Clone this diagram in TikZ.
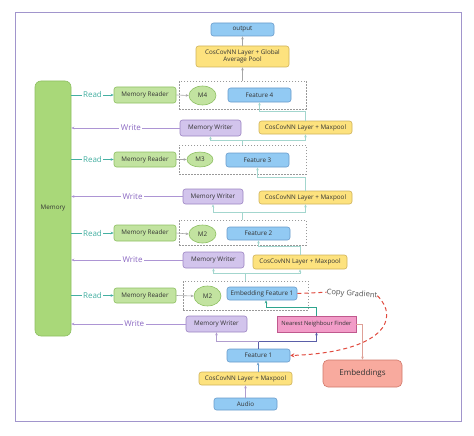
\documentclass[tikz,border=0pt]{standalone}
\usepackage{fontspec}
\setmainfont{Open Sans}
\usetikzlibrary{arrows.meta,shapes.geometric}
\definecolor{framec}{HTML}{A195CC}
\definecolor{gfill}{HTML}{C2E3A0}
\definecolor{gdraw}{HTML}{8DBF62}
\definecolor{memfill}{HTML}{A9D879}
\definecolor{bfill}{HTML}{92CAF3}
\definecolor{bdraw}{HTML}{6A9CCB}
\definecolor{yfill}{HTML}{FDE27E}
\definecolor{ydraw}{HTML}{CFB25A}
\definecolor{pfill}{HTML}{D2C4EC}
\definecolor{pdraw}{HTML}{9C84C2}
\definecolor{nfill}{HTML}{F29CC8}
\definecolor{ndraw}{HTML}{C0598E}
\definecolor{efill}{HTML}{F8AA9E}
\definecolor{edraw}{HTML}{D0786A}
\definecolor{txt}{HTML}{333333}
\definecolor{readc}{HTML}{45B0A2}
\definecolor{writec}{HTML}{8A67C2}
\definecolor{chainc}{HTML}{A3D6CE}
\definecolor{redc}{HTML}{E04A3E}
\definecolor{darkc}{HTML}{5A5FA8}
\definecolor{nnc}{HTML}{2FA58E}
\tikzset{
  lbl/.style={font=\fontsize{6.3}{7.5}\selectfont, text=txt, inner sep=0pt},
  bx/.style={lbl, draw, rounded corners=2.5pt, line width=0.6pt},
  gbox/.style={bx, fill=gfill, draw=gdraw},
  bbox/.style={bx, fill=bfill, draw=bdraw},
  ybox/.style={bx, fill=yfill, draw=ydraw},
  pbox/.style={bx, fill=pfill, draw=pdraw},
  mell/.style={lbl, ellipse, draw=gdraw, fill=gfill, line width=0.6pt},
  grp/.style={draw=gray!80, dash pattern=on 1.5pt off 1.5pt, line width=0.6pt, inner sep=0pt},
  tip/.style={-{Stealth[length=3pt,width=2.6pt]}},
  readline/.style={draw=readc, line width=0.6pt, tip},
  writeline/.style={draw=writec!70, line width=0.6pt, tip},
  rlbl/.style={font=\fontsize{8}{9}\selectfont, text=readc, fill=white, inner sep=1.5pt},
  wlbl/.style={font=\fontsize{8}{9}\selectfont, text=writec, fill=white, inner sep=1.5pt},
  gline/.style={draw=gray!70, line width=0.6pt, tip},
  chain/.style={draw=chainc, line width=0.6pt, tip},
}
\begin{document}
\begin{tikzpicture}[x=1pt,y=-1pt]
\useasboundingbox (0,0) rectangle (474,436);
\draw[framec, line width=1pt] (15,13) rectangle (461,421);

% memory
\node[lbl, draw=gdraw, fill=memfill, rounded corners=6pt, line width=0.6pt, minimum width=36, minimum height=255] (mem) at (53,208.5) {};
\node[lbl] (memt) at (53,208) {Memory};

% top
\node[bbox, minimum width=63, minimum height=13] (out) at (242.5,29.5) {output};
\node[ybox, minimum width=93, minimum height=21, align=center] (pool) at (242.5,56.5) {CosCovNN Layer + Global\\Average Pool};

% row 4
\node[grp, minimum width=127, minimum height=28] (g4) at (242.5,95) {};
\node[mell, minimum width=27, minimum height=19] (m4) at (202.5,95.5) {M4};
\node[bbox, minimum width=63, minimum height=14] (f4) at (259.5,95) {Feature 4};
\node[gbox, minimum width=62, minimum height=16] (r4) at (145,95) {Memory Reader};
\node[pbox, minimum width=61, minimum height=16] (w4) at (210.5,128) {Memory Writer};
\node[ybox, minimum width=93, minimum height=13] (c4) at (305.5,127.5) {CosCovNN Layer + Maxpool};

% row 3
\node[grp, minimum width=127, minimum height=29] (g3) at (242.5,159.5) {};
\node[mell, minimum width=26, minimum height=15] (m3) at (200,159.5) {M3};
\node[bbox, minimum width=63, minimum height=14] (f3) at (257.5,160) {Feature 3};
\node[gbox, minimum width=62, minimum height=15] (r3) at (145,159.5) {Memory Reader};
\node[pbox, minimum width=60, minimum height=15] (w3) at (213,196.5) {Memory Writer};
\node[ybox, minimum width=93, minimum height=13] (c3) at (305.5,197.5) {CosCovNN Layer + Maxpool};

% row 2
\node[grp, minimum width=127, minimum height=25] (g2) at (242.5,232.5) {};
\node[mell, minimum width=27, minimum height=18] (m2) at (202.5,234) {M2};
\node[bbox, minimum width=63, minimum height=13] (f2) at (258.5,233.5) {Feature 2};
\node[gbox, minimum width=62, minimum height=16] (r2) at (145,233) {Memory Reader};
\node[pbox, minimum width=61, minimum height=16] (w2) at (213.5,260) {Memory Writer};
\node[ybox, minimum width=94, minimum height=14] (c2) at (300,262) {CosCovNN Layer + Maxpool};

% row 1
\node[grp, minimum width=125, minimum height=29] (g1) at (245.5,295.5) {};
\node[mell, minimum width=27, minimum height=20] (m1) at (207.5,296) {M2};
\node[bbox, minimum width=70, minimum height=13] (ef1) at (262,293.5) {Embedding Feature 1};
\node[gbox, minimum width=62, minimum height=15] (r1) at (145,295.5) {Memory Reader};
\node[pbox, minimum width=61, minimum height=16] (w1) at (216.5,324) {Memory Writer};
\node[lbl, draw=ndraw, fill=nfill, line width=0.6pt, minimum width=79, minimum height=16, font=\fontsize{5.8}{7}\selectfont] (nnf) at (316.5,324) {Nearest Neighbour Finder};

% bottom
\node[bbox, minimum width=63, minimum height=13] (f1) at (258.5,355.5) {Feature 1};
\node[ybox, minimum width=93, minimum height=13] (c1) at (245.5,378.5) {CosCovNN Layer + Maxpool};
\node[bbox, minimum width=63, minimum height=12] (audio) at (245.5,404) {Audio};
\node[lbl, draw=edraw, fill=efill, rounded corners=5pt, line width=0.6pt, minimum width=79, minimum height=27, font=\fontsize{8}{9}\selectfont] (emb) at (362.5,373.5) {Embeddings};

% read / write
\foreach \r in {r4,r3,r2,r1}{
  \draw[readline] (mem.east |- \r) -- node[rlbl]{Read} (\r.west);
}
\foreach \w in {w4,w3,w2,w1}{
  \draw[writeline] (\w.west) -- node[wlbl, pos=0.45]{Write} (mem.east |- \w);
}
\draw[gline] (r4.east) -- (m4.west);
\draw[gline] (r3.east) -- (m3.west);
\draw[gline] (r2.east) -- (m2.west);
\draw[gline] (r1.east) -- (m1.west);

% top chain
\draw[gline] (pool.north) -- (out.south);
\draw[gline] (g4.north) -- (pool.south);

% cos -> features
\draw[chain] (c4.north) -- ++(0,-9) -| (f4.south);
\draw[chain] (c3.north) -- ++(0,-13) -| (f3.south);
\draw[chain] (c2.north) -- ++(0,-8) -| (f2.south);
\draw[draw=nnc, line width=0.6pt, tip] (nnf.north) -- ++(0,-8) -| ([xshift=4pt]ef1.south);

% group -> writer / cos
\coordinate (j3) at (242.5,140);
\draw[chainc, line width=0.6pt] (g3.north) -- (j3);
\draw[chain] (j3) -| (w4.south);
\draw[chain] (j3) -| (c4.south);
\coordinate (j2) at (242.5,212);
\draw[chainc, line width=0.6pt] (g2.north) -- (j2);
\draw[chain] (j2) -| (w3.south);
\draw[chain] (j2) -| (c3.south);
\coordinate (j1) at (245.5,273);
\draw[chainc, line width=0.6pt] (g1.north) -- (j1);
\draw[chain] (j1) -| (w2.south);
\draw[chain] (j1) -| (c2.south);

% feature 1
\coordinate (j0) at (258.5,341);
\draw[darkc, line width=0.6pt] (f1.north) -- (j0);
\draw[draw=darkc, line width=0.6pt, tip] (j0) -| (nnf.south);
\draw[draw=pdraw!80, line width=0.6pt, tip] (j0) -| (w1.south);
\draw[draw=bdraw, line width=0.6pt, tip] ([xshift=12.5pt]c1.north) -- ([xshift=-0.5pt]f1.south);
\draw[draw=pdraw!80, line width=0.6pt, tip] (audio.north) -- (c1.south);

% nnf -> embeddings
\draw[draw=edraw!70, line width=0.5pt, tip] (nnf.east) -| (emb.north);

% copy gradient
\node[font=\fontsize{7.6}{9}\selectfont, text=txt!85, rotate=-4, inner sep=0pt] (cg) at (352,294) {Copy Gradient};
\draw[redc, line width=1pt, dash pattern=on 4pt off 3pt] (ef1.east) -- (cg.west);
\draw[redc, line width=1pt, dash pattern=on 4pt off 3pt, -{Stealth[length=4pt,width=4pt]}] (cg.east) .. controls (400,318) and (385,352) .. (f1.east);
\end{tikzpicture}
\end{document}
